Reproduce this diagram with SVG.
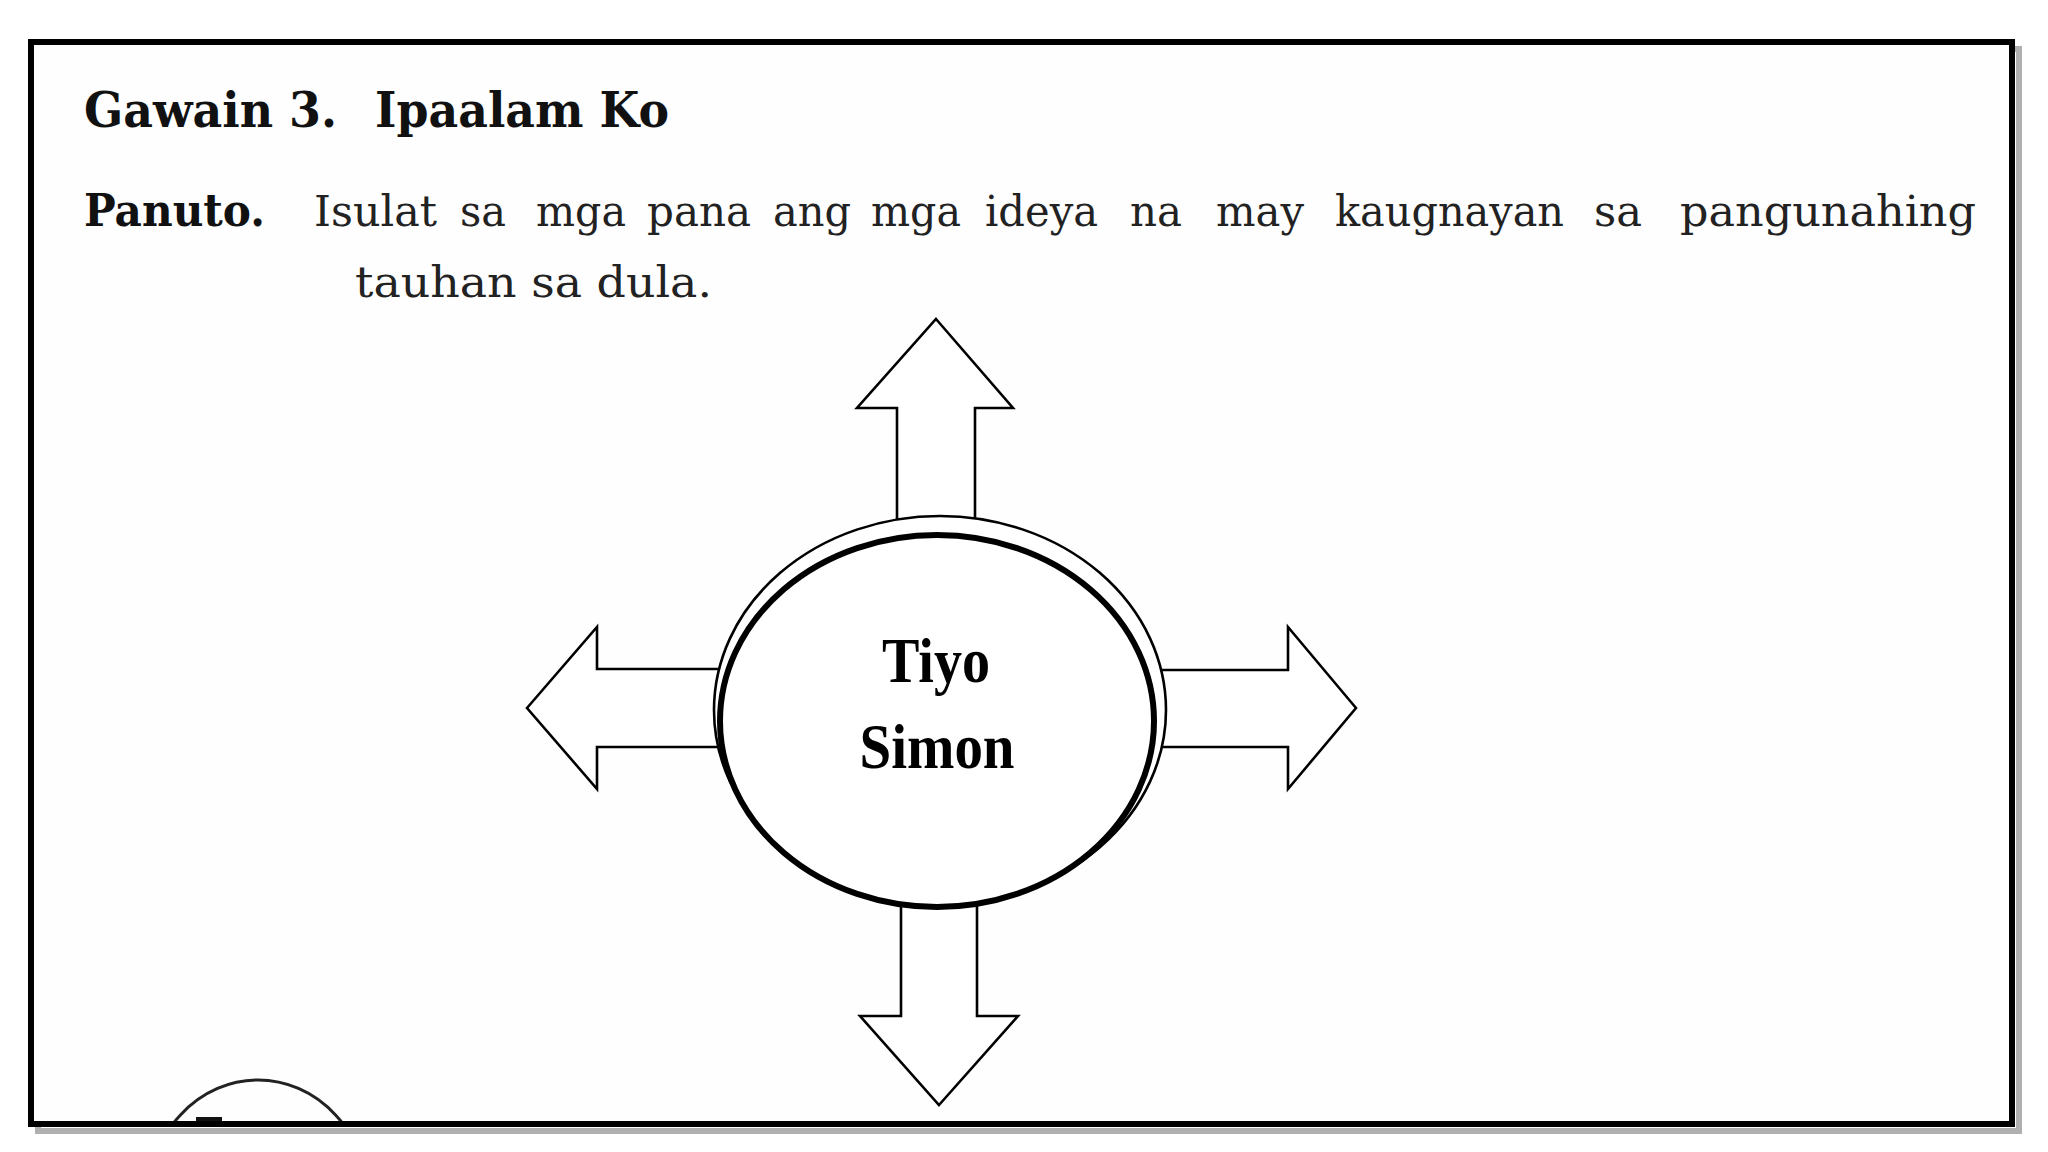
<svg xmlns="http://www.w3.org/2000/svg" width="2048" height="1152" viewBox="0 0 2048 1152">
  <defs>
    <style>
      .frame { fill: none; stroke: #000; stroke-width: 6; }
      .shadow { fill: none; stroke: #b0b0b0; stroke-width: 6; }
      .arrow { fill: #fff; stroke: #000; stroke-width: 2.6; stroke-linejoin: miter; }
      .title { font-family: "DejaVu Serif", "Liberation Serif", serif; font-weight: bold; font-size: 48px; fill: #111; }
      .body { font-family: "DejaVu Serif", "Liberation Serif", serif; font-size: 43px; fill: #222; }
      .bodyb { font-family: "DejaVu Serif", "Liberation Serif", serif; font-weight: bold; font-size: 44px; fill: #111; }
      .center { font-family: "Liberation Serif", "Times New Roman", serif; font-weight: bold; font-size: 64px; fill: #000; text-anchor: middle; }
    </style>
    <clipPath id="inside">
      <rect x="34" y="45" width="1975" height="1076"/>
    </clipPath>
  </defs>

  <rect x="0" y="0" width="2048" height="1152" fill="#fff"/>

  <!-- frame with shadow -->
  <g id="frame">
    <rect class="shadow" x="38" y="49" width="1981" height="1082"/>
    <rect x="31" y="42" width="1981" height="1082" fill="#fefefe" stroke="none"/>
    <rect class="frame" x="31" y="42" width="1981" height="1082"/>
  </g>

  <!-- heading texts -->
  <g id="heading">
    <text class="title" y="127"><tspan x="84" textLength="253" lengthAdjust="spacingAndGlyphs">Gawain 3.</tspan><tspan x="375" textLength="294" lengthAdjust="spacingAndGlyphs">Ipaalam Ko</tspan></text>
    <text class="bodyb" x="84" y="226" textLength="181" lengthAdjust="spacingAndGlyphs">Panuto.</text>
    <text class="body" y="226"><tspan x="314" textLength="123" lengthAdjust="spacingAndGlyphs">Isulat</tspan><tspan x="460" textLength="46" lengthAdjust="spacingAndGlyphs">sa</tspan><tspan x="536" textLength="90" lengthAdjust="spacingAndGlyphs">mga</tspan><tspan x="647" textLength="104" lengthAdjust="spacingAndGlyphs">pana</tspan><tspan x="773" textLength="78" lengthAdjust="spacingAndGlyphs">ang</tspan><tspan x="871" textLength="90" lengthAdjust="spacingAndGlyphs">mga</tspan><tspan x="985" textLength="113" lengthAdjust="spacingAndGlyphs">ideya</tspan><tspan x="1130" textLength="52" lengthAdjust="spacingAndGlyphs">na</tspan><tspan x="1216" textLength="88" lengthAdjust="spacingAndGlyphs">may</tspan><tspan x="1335" textLength="229" lengthAdjust="spacingAndGlyphs">kaugnayan</tspan><tspan x="1594" textLength="48" lengthAdjust="spacingAndGlyphs">sa</tspan><tspan x="1680" textLength="296" lengthAdjust="spacingAndGlyphs">pangunahing</tspan></text>
    <text class="body" y="297"><tspan x="355" textLength="357" lengthAdjust="spacingAndGlyphs">tauhan sa dula.</tspan></text>
  </g>

  <!-- connectors: the four block arrows -->
  <g id="connectors">
    <polygon id="arrow-up" class="arrow" points="936,319 1013,408 975,408 975,600 897,600 897,408 857,408"/>
    <polygon id="arrow-left" class="arrow" points="527,708 597,627 597,669 800,669 800,747 597,747 597,789"/>
    <polygon id="arrow-right" class="arrow" points="1356,708 1288,627 1288,670 1080,670 1080,747 1288,747 1288,789"/>
    <polygon id="arrow-down" class="arrow" points="939,1105 1018,1016 977,1016 977,800 901,800 901,1016 860,1016"/>
  </g>

  <!-- central node -->
  <g id="node-tiyo-simon">
    <ellipse cx="940" cy="710" rx="226" ry="194" fill="#fff" stroke="#000" stroke-width="2.6"/>
    <ellipse cx="937" cy="721" rx="217" ry="186" fill="#fff" stroke="#000" stroke-width="6"/>
    <text class="center" x="936" y="682" textLength="108" lengthAdjust="spacingAndGlyphs">Tiyo</text>
    <text class="center" x="937" y="768" textLength="155" lengthAdjust="spacingAndGlyphs">Simon</text>
  </g>

  <!-- partial shape cut by the bottom edge -->
  <g id="node-partial" clip-path="url(#inside)">
    <ellipse cx="258" cy="1200" rx="110" ry="120" fill="none" stroke="#222" stroke-width="3"/>
    <rect x="196" y="1117" width="26" height="5" fill="#111"/>
  </g>
</svg>
